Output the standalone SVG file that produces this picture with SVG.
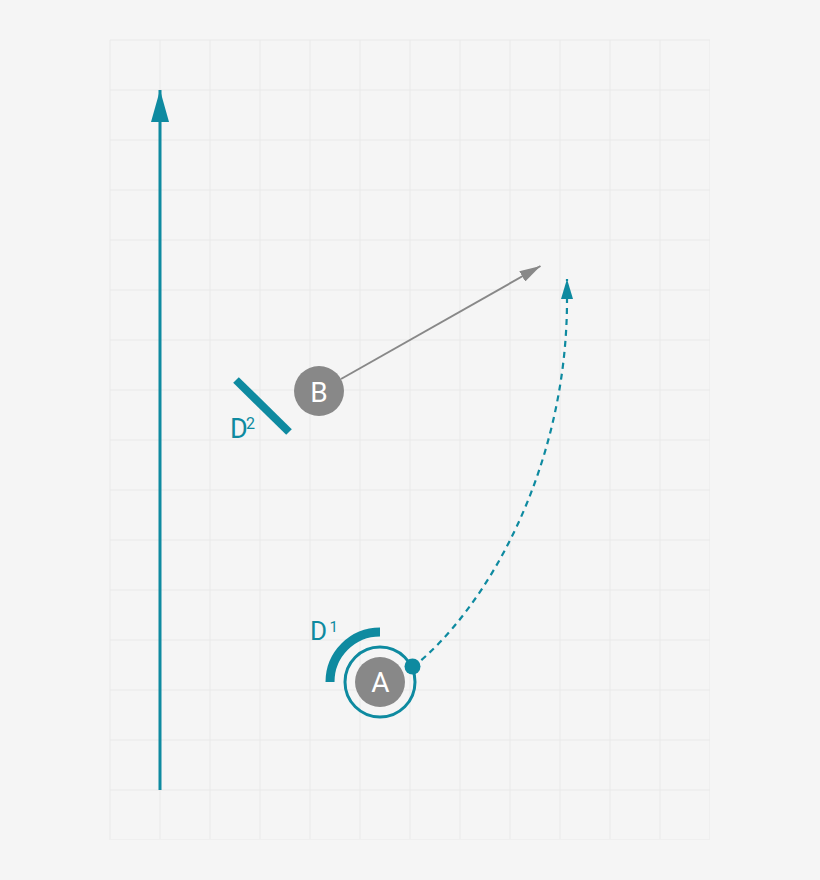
<svg xmlns="http://www.w3.org/2000/svg" width="820" height="880" viewBox="0 0 820 880">
  <defs>
    <style>
      .grid line { stroke: #e9e9e9; stroke-width: 1; }
      .teal { stroke: #0e8aa0; fill: none; }
      .lbl { font-family: Roboto, "Liberation Sans", sans-serif; fill: #0e8aa0; }
      .node-lbl { font-family: Roboto, "Liberation Sans", sans-serif; fill: #ffffff; font-size: 28px; text-anchor: middle; }
      .node { fill: #888888; }
    </style>
    <marker id="tealHead" viewBox="0 0 20 12" refX="20" refY="6" markerWidth="20" markerHeight="12" markerUnits="userSpaceOnUse" orient="auto">
      <path d="M0,0 L20,6 L0,12 Z" fill="#0e8aa0"/>
    </marker>
    <marker id="tealHeadBig" viewBox="0 0 32 18" refX="32" refY="9" markerWidth="32" markerHeight="18" markerUnits="userSpaceOnUse" orient="auto">
      <path d="M0,0 L32,9 L0,18 Z" fill="#0e8aa0"/>
    </marker>
    <marker id="grayHead" viewBox="0 0 21 12" refX="21" refY="6" markerWidth="21" markerHeight="12" markerUnits="userSpaceOnUse" orient="auto">
      <path d="M0,0 L21,6 L0,12 Z" fill="#888888"/>
    </marker>
  </defs>
  <rect width="820" height="880" fill="#f5f5f5"/>
  <g class="grid">
    <line x1="110" y1="40" x2="110" y2="840"/>
    <line x1="160" y1="40" x2="160" y2="840"/>
    <line x1="210" y1="40" x2="210" y2="840"/>
    <line x1="260" y1="40" x2="260" y2="840"/>
    <line x1="310" y1="40" x2="310" y2="840"/>
    <line x1="360" y1="40" x2="360" y2="840"/>
    <line x1="410" y1="40" x2="410" y2="840"/>
    <line x1="460" y1="40" x2="460" y2="840"/>
    <line x1="510" y1="40" x2="510" y2="840"/>
    <line x1="560" y1="40" x2="560" y2="840"/>
    <line x1="610" y1="40" x2="610" y2="840"/>
    <line x1="660" y1="40" x2="660" y2="840"/>
    <line x1="709.5" y1="40" x2="709.5" y2="840" style="stroke:#efefef"/>
    <line x1="110" y1="40" x2="710" y2="40"/>
    <line x1="110" y1="90" x2="710" y2="90"/>
    <line x1="110" y1="140" x2="710" y2="140"/>
    <line x1="110" y1="190" x2="710" y2="190"/>
    <line x1="110" y1="240" x2="710" y2="240"/>
    <line x1="110" y1="290" x2="710" y2="290"/>
    <line x1="110" y1="340" x2="710" y2="340"/>
    <line x1="110" y1="390" x2="710" y2="390"/>
    <line x1="110" y1="440" x2="710" y2="440"/>
    <line x1="110" y1="490" x2="710" y2="490"/>
    <line x1="110" y1="540" x2="710" y2="540"/>
    <line x1="110" y1="590" x2="710" y2="590"/>
    <line x1="110" y1="640" x2="710" y2="640"/>
    <line x1="110" y1="690" x2="710" y2="690"/>
    <line x1="110" y1="740" x2="710" y2="740"/>
    <line x1="110" y1="790" x2="710" y2="790"/>
    <line x1="110" y1="839.5" x2="710" y2="839.5" style="stroke:#efefef"/>
  </g>
  <g id="connectors">
    <line class="teal" x1="160" y1="790" x2="160" y2="90" stroke-width="3" marker-end="url(#tealHeadBig)"/>
    <line x1="341" y1="379" x2="540.5" y2="266" stroke="#888888" stroke-width="2" marker-end="url(#grayHead)"/>
    <path class="teal" d="M413,667 C485,610 567,470 567,300 L567,279" stroke-width="2.2" stroke-dasharray="6 5" marker-end="url(#tealHead)"/>
  </g>
  <g id="D2">
    <line x1="236" y1="380" x2="289" y2="432" stroke="#0e8aa0" stroke-width="8"/>
    <text class="lbl" x="230" y="438" font-size="27">D</text>
    <text class="lbl" x="246" y="429" font-size="16">2</text>
  </g>
  <g id="B">
    <circle class="node" cx="319" cy="391" r="25"/>
    <text class="node-lbl" x="319" y="401.5">B</text>
  </g>
  <g id="D1">
    <path class="teal" d="M330,682 A50,50 0 0 1 380,632" stroke-width="9"/>
    <text class="lbl" x="310" y="640" font-size="26">D</text>
    <text class="lbl" x="329.5" y="632" font-size="15">1</text>
  </g>
  <g id="A">
    <circle class="teal" cx="380" cy="682" r="35" stroke-width="3"/>
    <circle class="node" cx="380" cy="682" r="25"/>
    <text class="node-lbl" x="380.5" y="691.5">A</text>
    <circle cx="412.5" cy="666.5" r="8" fill="#0e8aa0"/>
  </g>
</svg>
